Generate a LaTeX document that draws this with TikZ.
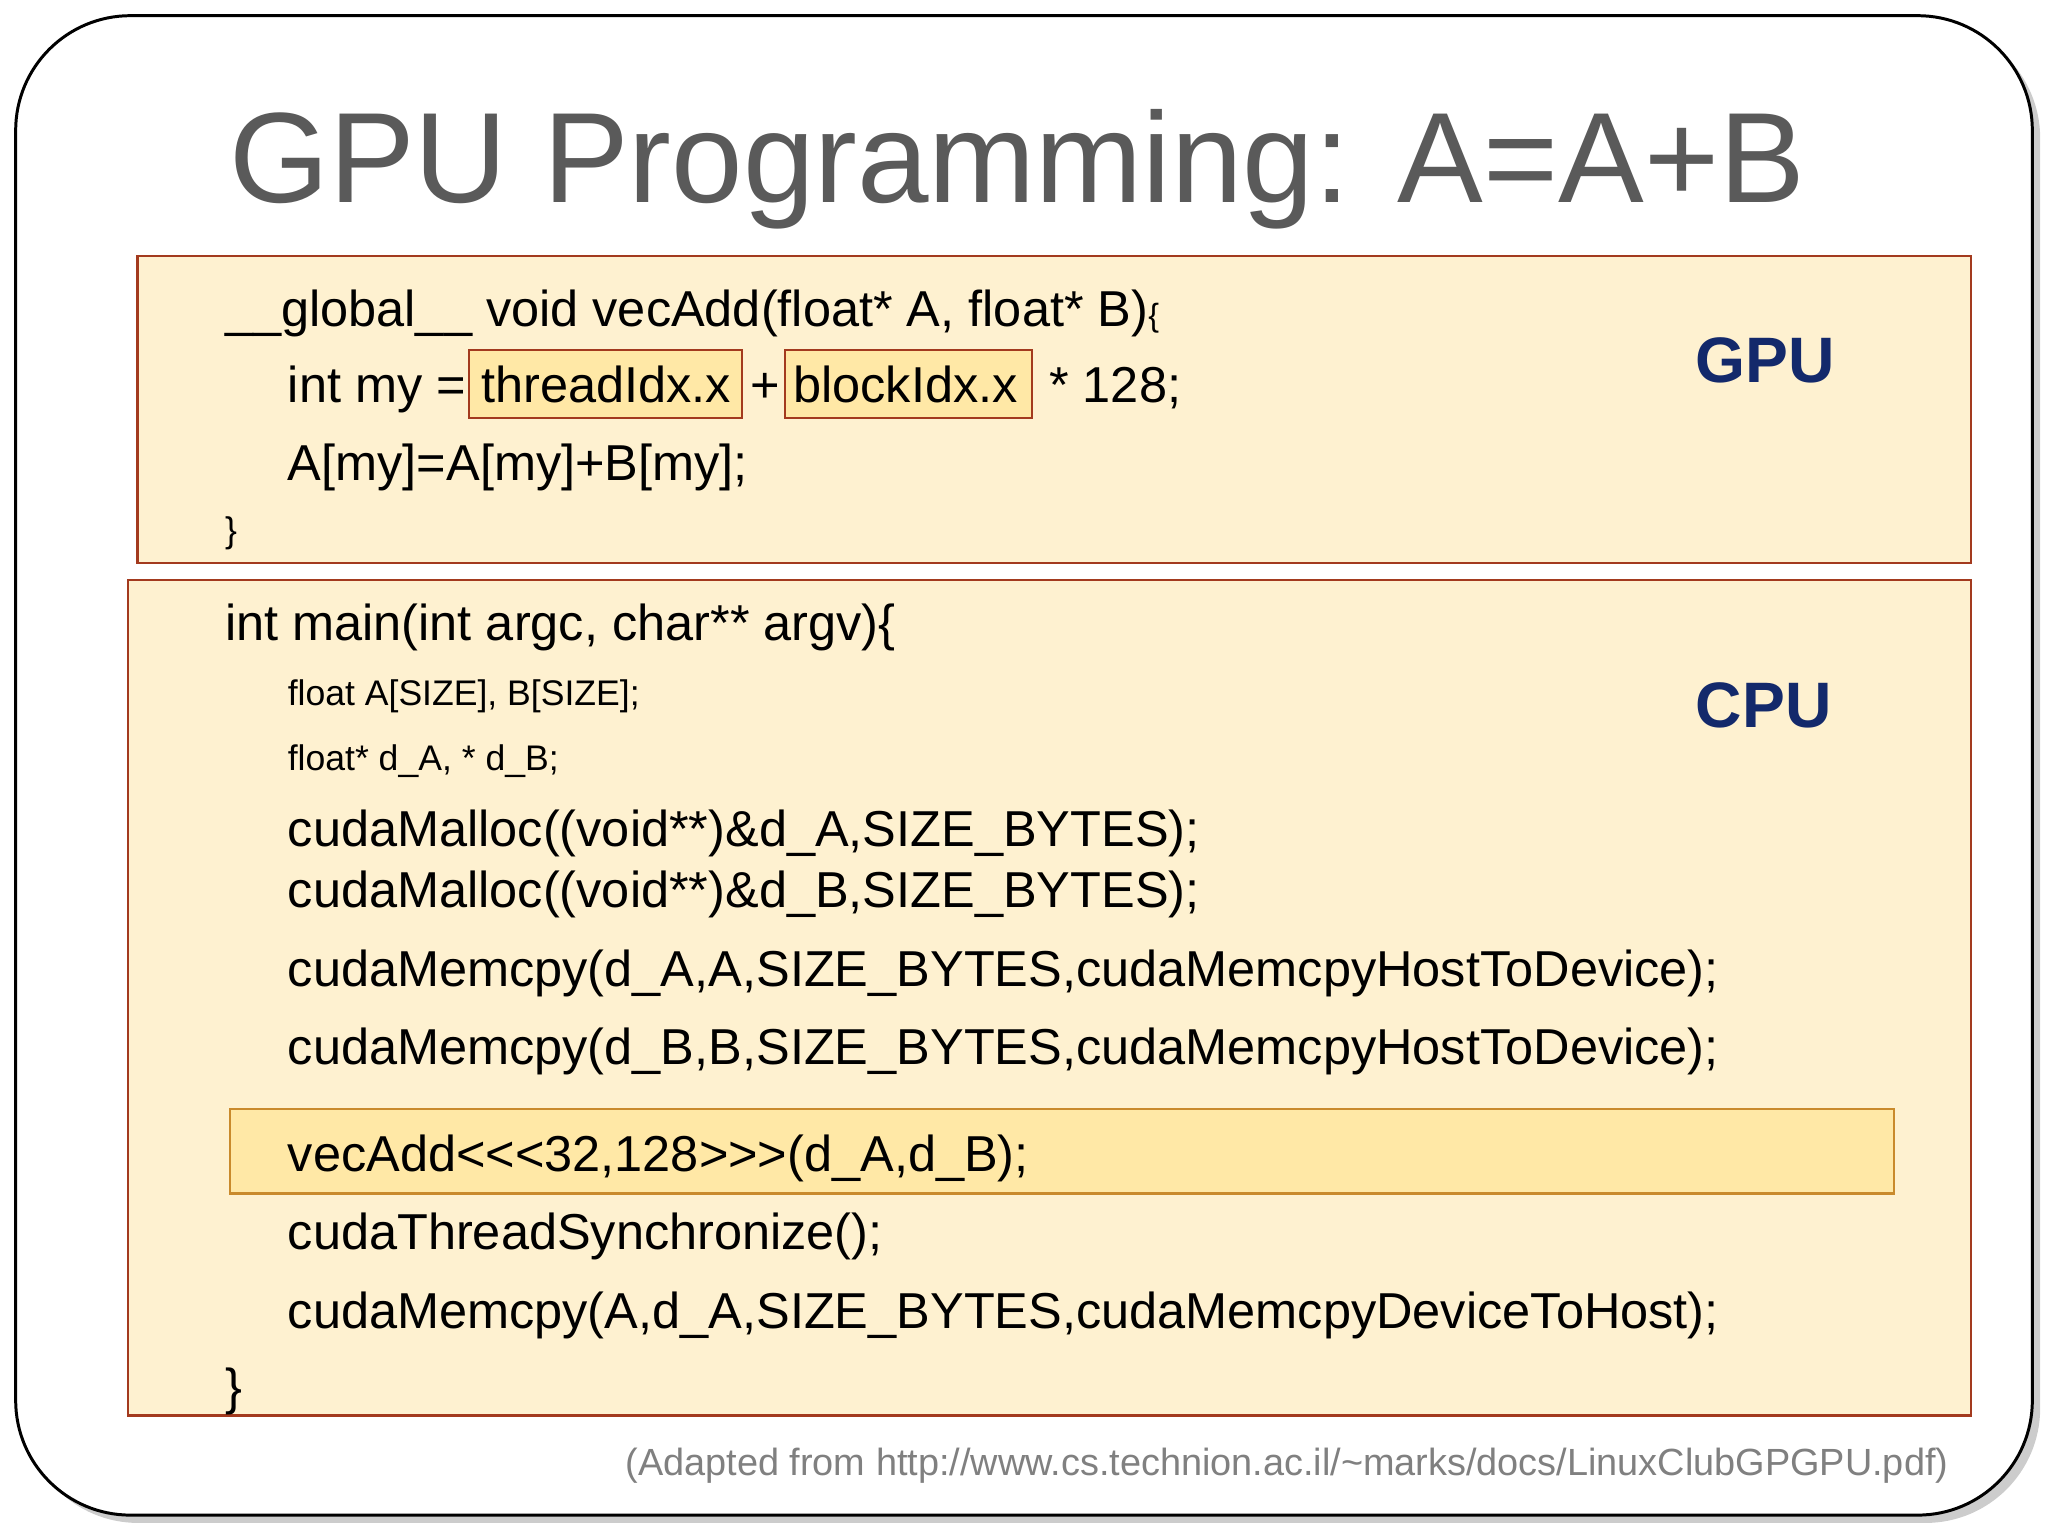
\documentclass[tikz,border=0pt]{standalone}
\usepackage{fontspec}
\setmainfont{Liberation Sans}
\definecolor{boxfill}{HTML}{FEF1D0}
\definecolor{boxline}{HTML}{A33A1E}
\definecolor{hl}{HTML}{FFE8A6}
\definecolor{hlline}{HTML}{C98A2C}
\definecolor{navy}{HTML}{13296B}
\definecolor{titlegray}{HTML}{5A5A5A}
\tikzset{
 code/.style={anchor=base west, inner sep=0pt, font=\fontsize{22}{26}\selectfont},
 small/.style={anchor=base west, inner sep=0pt, font=\fontsize{15.5}{18}\selectfont},
 tag/.style={anchor=base west, inner sep=0pt, text=navy, font=\bfseries\fontsize{28}{32}\selectfont},
 region/.style={draw=boxline, line width=1.2pt, fill=boxfill},
 hlbox/.style={draw=boxline, line width=1pt, fill=hl}
}
\begin{document}
\begin{tikzpicture}[x=0.02cm,y=-0.02cm]
\useasboundingbox (0,0) rectangle (1568,1176);
\fill[gray!40] (18,18) [rounded corners=50] rectangle (1562,1166);
\draw[line width=1.3pt, fill=white, rounded corners=50] (12,12) rectangle (1556,1160);
\node[anchor=base west, inner sep=0pt, text=titlegray, font=\fontsize{56}{60}\selectfont] (title) at (175,155) {GPU Programming: A=A+B};
% GPU box
\draw[region] (105,196) rectangle (1509,431);
\node[code] (g1) at (172,250) {\_\_global\_\_ void vecAdd(float* A, float* B)\fontsize{14}{16}\selectfont\{};
\draw[hlbox] (359,268) rectangle (568,320);
\draw[hlbox] (601,268) rectangle (790,320);
\node[code] (g2a) at (220,308) {int my =};
\node[code] (g2b) at (368,308) {threadIdx.x};
\node[code] (g2c) at (574,308) {+};
\node[code] (g2d) at (607,308) {blockIdx.x};
\node[code] (g2e) at (803,308) {* 128;};
\node[code] (g3) at (220,368) {A[my]=A[my]+B[my];};
\node[small] (g4) at (172,415) {\}};
\node[tag] (gpu) at (1298,293) {GPU};
% CPU box
\draw[region] (98,444) rectangle (1509,1084);
\draw[draw=hlline, line width=1.2pt, fill=hl] (176,849) rectangle (1450,914);
\node[code] (c1) at (172,490) {int main(int argc, char** argv)\{};
\node[small] (c2) at (220,540) {float A[SIZE], B[SIZE];};
\node[small] (c3) at (220,590) {float* d\_A, * d\_B;};
\node[code] (c4) at (220,648) {cudaMalloc((void**)\&d\_A,SIZE\_BYTES);};
\node[code] (c5) at (220,695) {cudaMalloc((void**)\&d\_B,SIZE\_BYTES);};
\node[code] (c6) at (220,755) {cudaMemcpy(d\_A,A,SIZE\_BYTES,cudaMemcpyHostToDevice);};
\node[code] (c7) at (220,815) {cudaMemcpy(d\_B,B,SIZE\_BYTES,cudaMemcpyHostToDevice);};
\node[code] (c8) at (220,897) {vecAdd<{}<{}<32,128>{}>{}>(d\_A,d\_B);};
\node[code] (c9) at (220,957) {cudaThreadSynchronize();};
\node[code] (c10) at (220,1017) {cudaMemcpy(A,d\_A,SIZE\_BYTES,cudaMemcpyDeviceToHost);};
\node[code] (c11) at (172,1075) {\}};
\node[tag] (cpu) at (1298,557) {CPU};
\node[anchor=base east, inner sep=0pt, text=gray, font=\fontsize{16.5}{20}\selectfont] (src) at (1492,1130) {(Adapted from http://www.cs.technion.ac.il/\textasciitilde marks/docs/LinuxClubGPGPU.pdf)};
\end{tikzpicture}
\end{document}
